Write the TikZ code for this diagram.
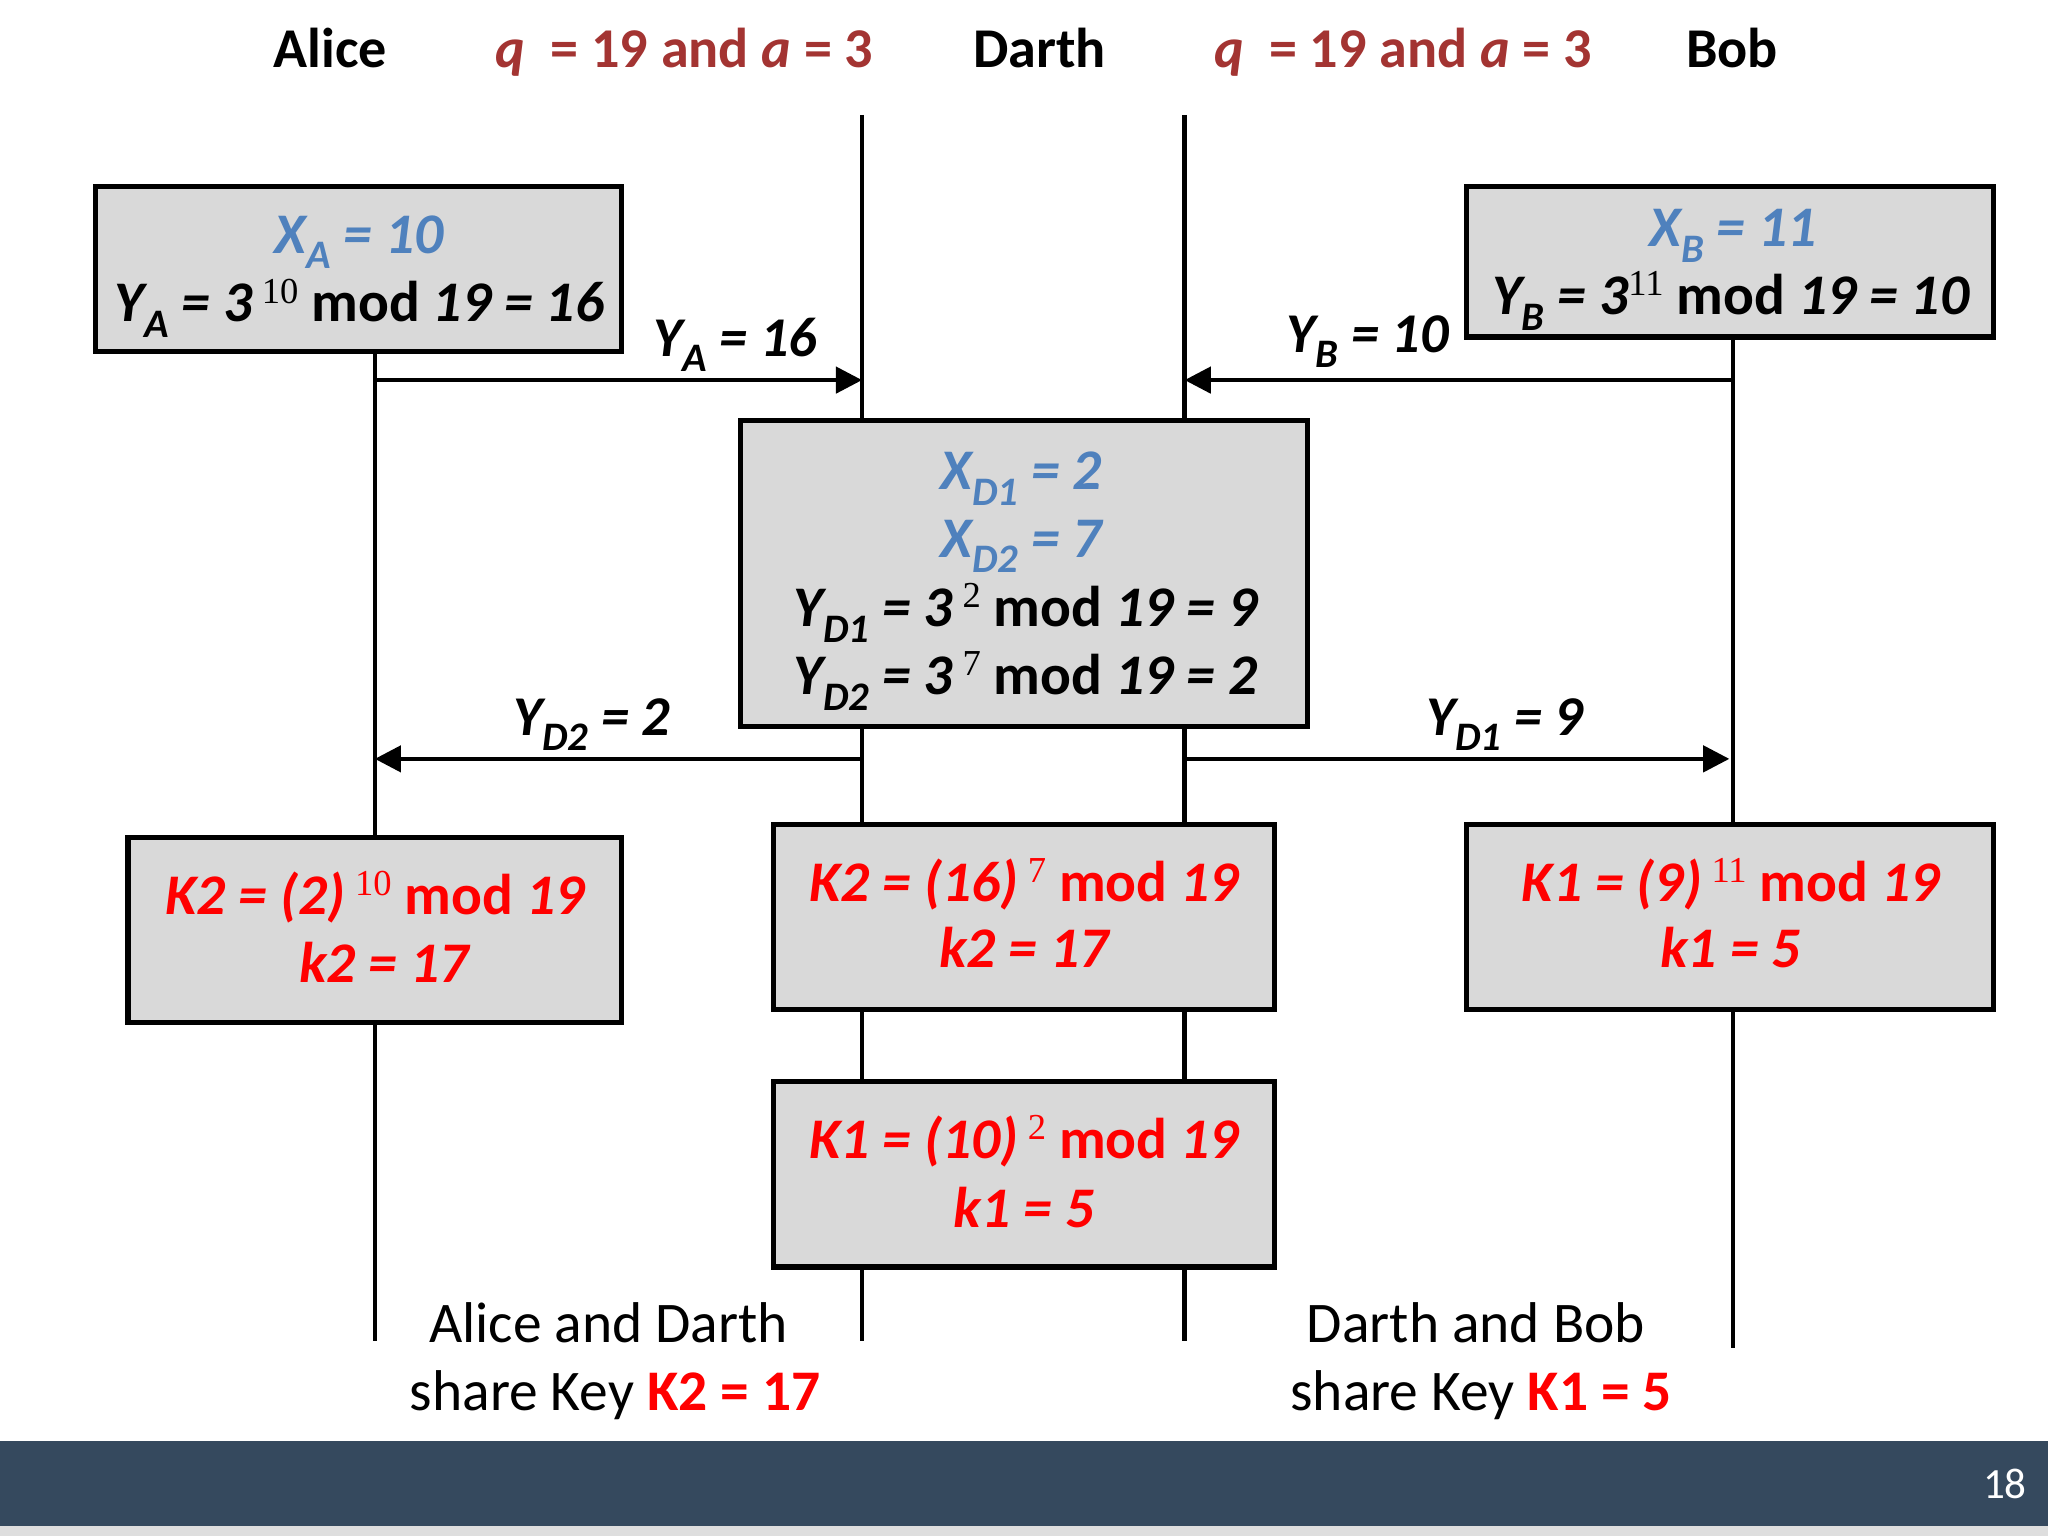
\documentclass[tikz,border=0pt]{standalone}
\usepackage{fontspec}
\setmainfont{Carlito}
\newfontfamily\serfont{Liberation Serif}
\usetikzlibrary{arrows.meta}
\definecolor{boxgray}{RGB}{217,217,217}
\definecolor{xblue}{RGB}{79,129,189}
\definecolor{tred}{RGB}{163,52,50}
\definecolor{kred}{RGB}{255,0,0}
\definecolor{footbg}{RGB}{53,73,94}
\definecolor{footline}{RGB}{222,222,222}
\newcommand\sbx[1]{\raisebox{-0.27em}{\fontsize{31}{33}\selectfont #1}}
\newcommand\spx[1]{\raisebox{0.33em}{\fontsize{28}{30}\selectfont\serfont\mdseries\upshape #1}}
\begin{document}
\begin{tikzpicture}[x=1pt,y=-1pt,
  box/.style={draw=black, line width=4pt, fill=boxgray, inner sep=0pt},
  life/.style={line width=3.4pt},
  msg/.style={line width=3.2pt, -{Triangle[length=20pt,width=20pt]}},
  btxt/.style={anchor=base, inner sep=0pt, font=\fontsize{44}{50}\selectfont\bfseries\itshape},
  ltxt/.style={anchor=base, inner sep=0pt, font=\fontsize{43}{50}\selectfont\bfseries\itshape},
  ttl/.style={anchor=base, inner sep=0pt, font=\fontsize{43}{50}\selectfont\bfseries},
  note/.style={anchor=base, inner sep=0pt, font=\fontsize{44}{50}\selectfont}]
\useasboundingbox (0,0) rectangle (1568,1176);
\fill[white] (0,0) rectangle (1568,1176);
% footer
\fill[footbg] (0,1103) rectangle (1568,1168);
\fill[footline] (0,1168) rectangle (1568,1176);
\node[anchor=base, inner sep=0pt, text=white, font=\fontsize{33}{36}\selectfont] (pg) at (1535,1147) {18};
% titles
\node[ttl] (alice) at (253,52) {Alice};
\node[ttl, text=tred] (par1) at (524,52) {\itshape q\upshape\ \ = 19 and \itshape a\upshape\ = 3};
\node[ttl] (darth) at (796,52) {Darth};
\node[ttl, text=tred] (par2) at (1074,52) {\itshape q\upshape\ \ = 19 and \itshape a\upshape\ = 3};
\node[ttl] (bob) at (1326,52) {Bob};
% lifeline coordinates
\coordinate (aT) at (287,269);  \coordinate (aB) at (287,1027);
\coordinate (dlT) at (660,88);  \coordinate (dlB) at (660,1027);
\coordinate (drT) at (907,88);  \coordinate (drB) at (907,1027);
\coordinate (bT) at (1327,258); \coordinate (bB) at (1327,1032);
\draw[life] (aT) -- (aB);
\draw[life] (dlT) -- (dlB);
\draw[life] (drT) -- (drB);
\draw[life] (bT) -- (bB);
% boxes
\node[box, minimum width=403pt, minimum height=126pt] (abox) at (274.5,206) {};
\node[box, minimum width=403pt, minimum height=115pt] (bbox) at (1324.5,200.5) {};
\node[box, minimum width=434pt, minimum height=234pt] (dbox) at (784,439) {};
\node[box, minimum width=378pt, minimum height=142pt] (k2a) at (287,712) {};
\node[box, minimum width=384pt, minimum height=142pt] (k2d) at (784,702) {};
\node[box, minimum width=403pt, minimum height=142pt] (k1b) at (1324.5,702) {};
\node[box, minimum width=384pt, minimum height=142pt] (k1d) at (784,899) {};
% box texts
\node[btxt, text=xblue] (xa) at (275,194) {X\sbx{A} = 10};
\node[btxt] (ya) at (275,246.5) {Y\sbx{A} = 3\,\spx{10} {\upshape mod} 19 = 16};
\node[btxt, text=xblue] (xb) at (1327,189) {X\sbx{B} = 11};
\node[btxt] (yb) at (1325,241) {Y\sbx{B} = 3\spx{11} {\upshape mod} 19 = 10};
\node[btxt, text=xblue] (xd1) at (782,375) {X\sbx{D1} = 2};
\node[btxt, text=xblue] (xd2) at (782,426.5) {X\sbx{D2} = 7};
\node[btxt] (yd1) at (785,480) {Y\sbx{D1} = 3\,\spx{2} {\upshape mod} 19 = 9};
\node[btxt] (yd2) at (785,532) {Y\sbx{D2} = 3\,\spx{7} {\upshape mod} 19 = 2};
\node[btxt, text=kred] (k2a1) at (287,700) {K2 = (2)\,\spx{10} {\upshape mod} 19};
\node[btxt, text=kred] (k2a2) at (294,752) {k2 = 17};
\node[btxt, text=kred] (k2d1) at (784,690.5) {K2 = (16)\,\spx{7} {\upshape mod} 19};
\node[btxt, text=kred] (k2d2) at (784,741) {k2 = 17};
\node[btxt, text=kred] (k1b1) at (1325,690.5) {K1 = (9)\,\spx{11} {\upshape mod} 19};
\node[btxt, text=kred] (k1b2) at (1325,741) {k1 = 5};
\node[btxt, text=kred] (k1d1) at (784,887) {K1 = (10)\,\spx{2} {\upshape mod} 19};
\node[btxt, text=kred] (k1d2) at (784,939.5) {k1 = 5};
% messages
\coordinate (aM1) at (287,291);  \coordinate (dM1) at (660,291);
\coordinate (dM2) at (907,291);  \coordinate (bM1) at (1327,291);
\coordinate (aM2) at (287,581);  \coordinate (dM3) at (660,581);
\coordinate (dM4) at (907,581);  \coordinate (bM2) at (1324,581);
\draw[msg] (aM1) -- (dM1);
\draw[msg] (bM1) -- (dM2);
\draw[msg] (dM3) -- (aM2);
\draw[msg] (dM4) -- (bM2);
\node[ltxt] (lya) at (563,273) {Y\sbx{A} = 16};
\node[ltxt] (lyb) at (1047,270) {Y\sbx{B} = 10};
\node[ltxt] (lyd2) at (453,563) {Y\sbx{D2} = 2};
\node[ltxt] (lyd1) at (1152,563) {Y\sbx{D1} = 9};
% bottom notes
\node[note] (n1a) at (466,1028) {Alice and Darth};
\node[note] (n1b) at (471,1080) {share Key {\bfseries\color{kred}K2 = 17}};
\node[note] (n2a) at (1130,1028) {Darth and Bob};
\node[note] (n2b) at (1134,1080) {share Key {\bfseries\color{kred}K1 = 5}};
\end{tikzpicture}
\end{document}
